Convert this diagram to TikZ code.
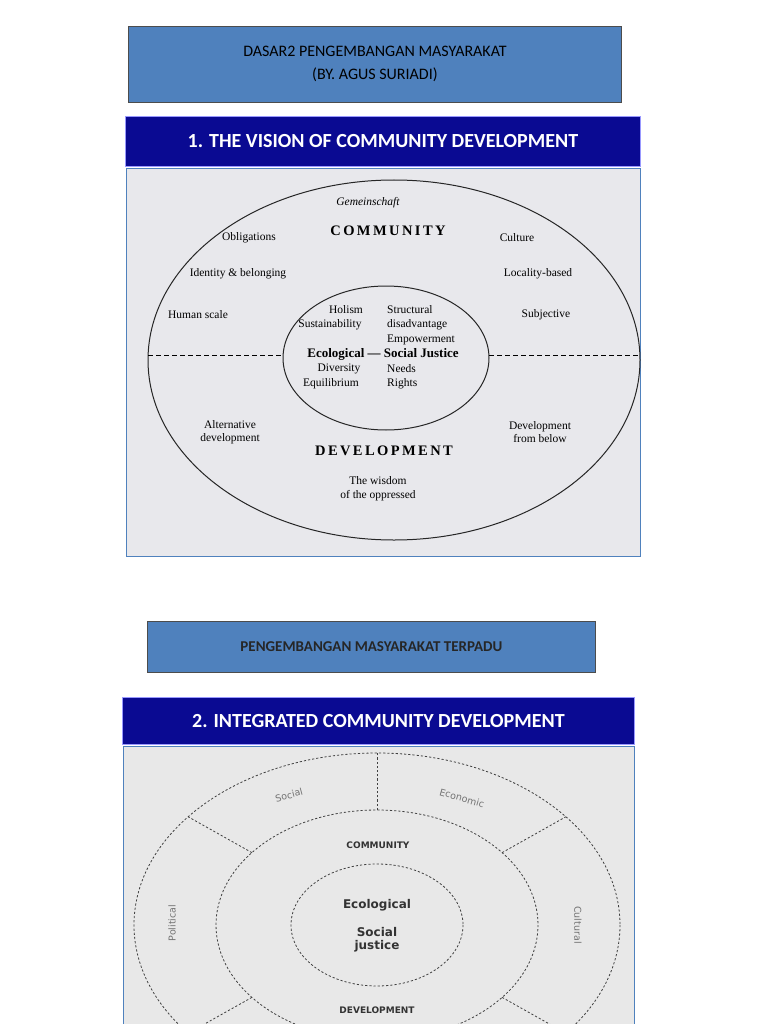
\documentclass[tikz,border=0pt]{standalone}
\usepackage{fontspec}
\setmainfont{Liberation Serif}
\newfontfamily\carl{Carlito}
\newfontfamily\dvs{DejaVu Sans}
\begin{document}
\begin{tikzpicture}[x=1pt,y=-1pt,
  bluebox/.style={draw=black!70,fill=blueA,line width=0.8pt},
  navybar/.style={draw=blue!40,fill=navy,line width=0.8pt},
  panel/.style={draw=blueA,fill=panelgray,line width=0.8pt},
  lbl/.style={font=\fontsize{11.5}{13}\selectfont,align=center,inner sep=0pt},
  dot/.style={dash pattern=on 2.2pt off 2pt,line width=0.8pt,draw=black!75},
  slbl/.style={font=\dvs\fontsize{9.5}{10}\selectfont,text=black!55,inner sep=0pt}]
\definecolor{blueA}{HTML}{4F81BD}
\definecolor{navy}{HTML}{0A0A92}
\definecolor{panelgray}{HTML}{E8E8EC}
\useasboundingbox (0,0) rectangle (768,1024);
\fill[white] (0,0) rectangle (768,1024);
% top box
\node[bluebox,minimum width=493pt,minimum height=76pt,anchor=north west,align=center,font=\carl\fontsize{16}{23}\selectfont] (top) at (128,26) {DASAR2 PENGEMBANGAN MASYARAKAT\\(BY. AGUS SURIADI)};
% title bar 1
\node[navybar,minimum width=515pt,minimum height=50pt,anchor=north west,text=white,font=\carl\bfseries\fontsize{20}{22}\selectfont] (t1) at (125,116) {1. THE VISION OF COMMUNITY DEVELOPMENT};
\node[panel,minimum width=514pt,minimum height=388pt,anchor=north west] (p1) at (126,168) {};
% diagram 1
\draw[line width=1pt,black!85] (394,360) ellipse [x radius=246,y radius=180];
\draw[line width=1pt,black!85] (386,358) ellipse [x radius=103,y radius=72];
\coordinate (dl1) at (148,355); \coordinate (dl2) at (283,355);
\coordinate (dr1) at (489,355); \coordinate (dr2) at (640,355);
\draw[line width=0.9pt,dash pattern=on 5pt off 3pt] (dl1) -- (dl2);
\draw[line width=0.9pt,dash pattern=on 5pt off 3pt] (dr1) -- (dr2);
\node[lbl,font=\itshape\fontsize{11.5}{13}\selectfont] (gm) at (368,203) {Gemeinschaft};
\node[lbl,font=\bfseries\fontsize{14.5}{16}\selectfont] (com) at (388,231) {C\,O\,M\,M\,U\,N\,I\,T\,Y};
\node[lbl] (ob) at (249,238) {Obligations};
\node[lbl] (cu) at (517,238) {Culture};
\node[lbl] (id) at (238,274) {Identity \& belonging};
\node[lbl] (lb) at (538,274) {Locality-based};
\node[lbl] (hs) at (198,315) {Human scale};
\node[lbl] (sj) at (546,315) {Subjective};
\node[lbl] (ho) at (346,310) {Holism};
\node[lbl,anchor=west] (st) at (387,310) {Structural};
\node[lbl] (su) at (330,325) {Sustainability};
\node[lbl,anchor=west] (di) at (387,325) {disadvantage};
\node[lbl,anchor=west] (em) at (387,340) {Empowerment};
\node[lbl,font=\bfseries\fontsize{13}{14}\selectfont] (eco) at (383,354) {Ecological --- Social Justice};
\node[lbl] (dv) at (339,369) {Diversity};
\node[lbl,anchor=west] (ne) at (387,369) {Needs};
\node[lbl] (eq) at (331,384) {Equilibrium};
\node[lbl,anchor=west] (ri) at (387,384) {Rights};
\node[lbl,font=\fontsize{11.5}{13}\selectfont] (ad) at (230,432) {Alternative\\development};
\node[lbl,font=\fontsize{11.5}{13}\selectfont] (fb) at (540,432) {Development\\from below};
\node[lbl,font=\bfseries\fontsize{14.5}{16}\selectfont] (dev) at (384,451) {D\,E\,V\,E\,L\,O\,P\,M\,E\,N\,T};
\node[lbl,font=\fontsize{11.5}{14}\selectfont] (wo) at (378,489) {The wisdom\\of the oppressed};
% second section
\node[bluebox,minimum width=448pt,minimum height=51pt,anchor=north west,font=\carl\bfseries\fontsize{15}{16}\selectfont,text=black!85] (b2) at (147,621) {PENGEMBANGAN MASYARAKAT TERPADU};
\node[navybar,minimum width=512pt,minimum height=47pt,anchor=north west,text=white,font=\carl\bfseries\fontsize{20}{22}\selectfont] (t2) at (122,697) {2. INTEGRATED COMMUNITY DEVELOPMENT};
\node[panel,minimum width=511pt,minimum height=290pt,anchor=north west,fill=black!9] (p2) at (123,746) {};
\begin{scope}
\clip (123,746) rectangle (634,1024);
\draw[dot] (377,925) ellipse [x radius=86,y radius=61];
\draw[dot] (377,925) ellipse [x radius=161,y radius=115];
\draw[dot] (377,925) ellipse [x radius=243,y radius=172];
\foreach \a in {90,141,39,219,321}
  \draw[dot] ({377+161*cos(\a)},{925-115*sin(\a)}) -- ({377+243*cos(\a)},{925-172*sin(\a)});
\end{scope}
\node[slbl,rotate=15] (so) at (289,795) {Social};
\node[slbl,rotate=-16] (ec) at (462,798) {Economic};
\node[slbl,rotate=90] (po) at (172,923) {Political};
\node[slbl,rotate=-90] (cl) at (578,925) {Cultural};
\node[font=\dvs\bfseries\fontsize{9}{9}\selectfont,text=black!80] (c2) at (378,845) {COMMUNITY};
\node[font=\dvs\bfseries\fontsize{9}{9}\selectfont,text=black!80] (d2) at (377,1010) {DEVELOPMENT};
\node[font=\dvs\bfseries\fontsize{12}{12}\selectfont,text=black!80] (e2) at (377,905) {Ecological};
\node[font=\dvs\bfseries\fontsize{12}{13}\selectfont,text=black!80,align=center] (s2) at (377,940) {Social\\justice};
\end{tikzpicture}
\end{document}
